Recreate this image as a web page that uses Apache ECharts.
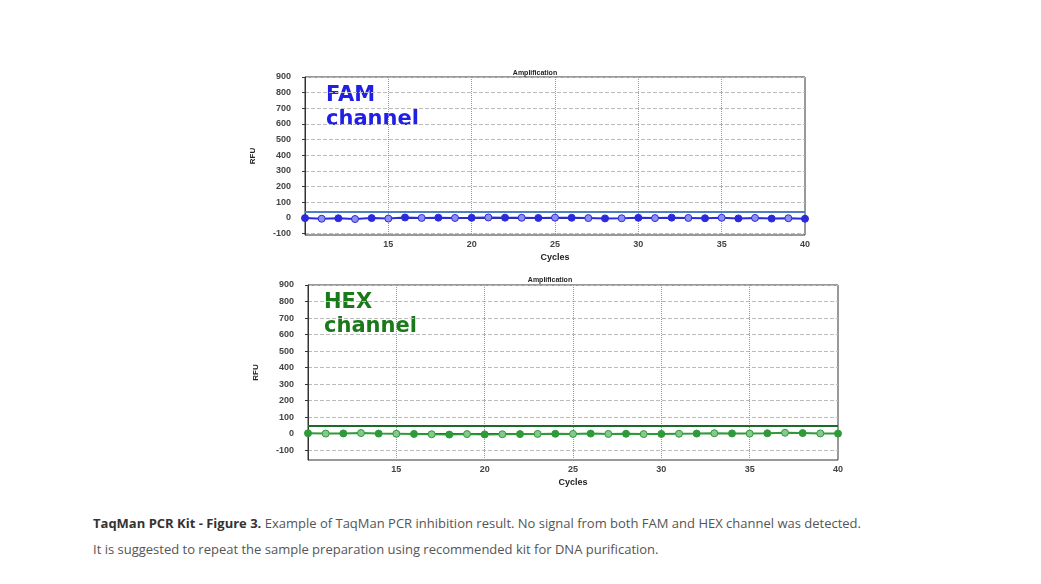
<!DOCTYPE html>
<html><head><meta charset="utf-8">
<script src="https://cdn.jsdelivr.net/npm/echarts@6/dist/echarts.min.js"></script>
<style>
body{margin:0;background:#fff;font-family:"Open Sans",sans-serif}
#c{width:1041px;height:500px}
#cap{position:absolute;left:93px;top:510px;width:900px;font-size:13px;line-height:26px;color:#555}
#cap b{color:#333}
</style></head><body>
<div id="c"></div>
<div id="cap"><b>TaqMan PCR Kit - Figure 3.</b> Example of TaqMan PCR inhibition result. No signal from both FAM and HEX channel was detected.<br>It is suggested to repeat the sample preparation using recommended kit for DNA purification.</div>
<script>
// cycles 10..40
var cycles = [10,11,12,13,14,15,16,17,18,19,20,21,22,23,24,25,26,27,28,29,30,31,32,33,34,35,36,37,38,39,40];
var famRfu = [-2,-6,-3,-8,-2,-5,2,-1,1,-1,0,2,1,0,-1,1,0,-2,-4,-3,0,-2,1,-1,-3,0,-4,-1,-5,-3,-6];
var hexRfu = [2,0,1,3,0,-1,-2,-4,-6,-3,-5,-4,-3,-2,-1,-2,0,-2,-1,-3,-2,-1,0,2,1,0,2,5,3,1,0];
var famThreshold = 40;
var hexThreshold = 45;
var yTicks = [-100,0,100,200,300,400,500,600,700,800,900];

var chart = echarts.init(document.getElementById('c'));
function pairs(v){ return cycles.map(function(c,i){ return [c, v[i]]; }); }
var lab = {fontSize:9, color:'#444', fontWeight:'bold'};
function xAx(i){ return {gridIndex:i,type:'value',min:10,max:40,interval:5,
  name:'Cycles',nameLocation:'middle',nameGap:18,nameTextStyle:{fontSize:9,fontWeight:'bold',color:'#222'},
  axisLabel:Object.assign({formatter:function(v){return v===10?'':v;},margin:5},lab),
  axisLine:{lineStyle:{color:'#333'}},axisTick:{inside:true,length:3},
  minorTick:{show:true,splitNumber:5,length:2},
  splitLine:{show:true,lineStyle:{type:'dotted',color:'#999'}}}; }
function yAx(i,min){ return {gridIndex:i,type:'value',min:min,max:900,
  name:'RFU',nameLocation:'middle',nameGap:48,nameRotate:90,nameTextStyle:{fontSize:8,fontWeight:'bold',color:'#222'},
  axisLabel:Object.assign({customValues:yTicks,margin:14},lab),
  axisTick:{customValues:yTicks,inside:false,length:3},
  splitLine:{show:true,lineStyle:{type:'dashed',color:'#bbb'}},
  axisLine:{show:true,lineStyle:{color:'#333'}}}; }
function ser(i,data,col,light,thr){ return {type:'line',xAxisIndex:i,yAxisIndex:i,data:pairs(data),
  symbol:'circle',symbolSize:7,lineStyle:{color:col,width:2},
  itemStyle:{color:function(p){return p.dataIndex%2?light:col;},borderColor:col,borderWidth:1},
  markLine:{silent:true,symbol:'none',label:{show:false},lineStyle:{color:thr,type:'solid',width:2},data:[{yAxis:i===0?famThreshold:hexThreshold}]}}; }
chart.setOption({
  animation:false,
  title:[{text:'Amplification',left:530,top:65,textAlign:'center',textStyle:{fontSize:7,fontWeight:'bold',color:'#222'}},
         {text:'Amplification',left:545,top:272,textAlign:'center',textStyle:{fontSize:7,fontWeight:'bold',color:'#222'}}],
  graphic:[
    {type:'text',left:326,top:84,style:{text:'FAM\nchannel',fill:'#1f1fe6',font:'bold 21px "DejaVu Sans"',lineHeight:24}},
    {type:'text',left:324,top:291,style:{text:'HEX\nchannel',fill:'#1a7a1a',font:'bold 21px "DejaVu Sans"',lineHeight:24}}],
  grid:[{left:305,top:77,width:500,height:158,show:true,borderColor:'#333'},
        {left:308,top:285,width:530,height:175,show:true,borderColor:'#333'}],
  xAxis:[xAx(0),xAx(1)],
  yAxis:[yAx(0,-110),yAx(1,-160)],
  series:[ser(0,famRfu,'#2b2bdd','#8f8ff0','#4a7fc0'),
          ser(1,hexRfu,'#2e9a3a','#86c98c','#1d6b2a')]
});
</script></body></html>
